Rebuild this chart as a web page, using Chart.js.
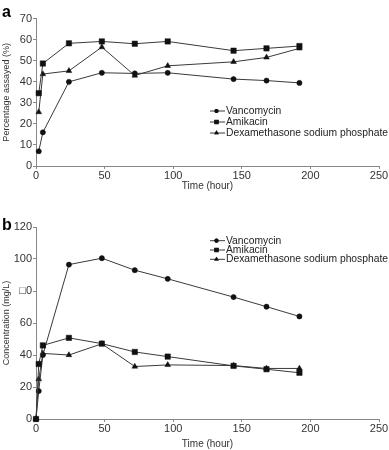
<!DOCTYPE html>
<html>
<head>
  <title>Percentage assayed and concentration</title>
  <script src="https://cdn.jsdelivr.net/npm/chart.js"></script>
  <style>
    body { margin: 0; background-color: #ffffff; font-family: "Liberation Sans", Arial, sans-serif; }
    #wrap { position: relative; width: 389px; height: 450px; }
    canvas { position: absolute; left: 0; }
    #chartA { top: 0; }
    #chartB { top: 200px; }
  </style>
</head>
<body>
  <div id="wrap">
    <canvas id="chartA" width="389" height="200"></canvas>
    <canvas id="chartB" width="389" height="250"></canvas>
  </div>

  <script>
    // panel a - percentage assayed
    const timesA = [2, 5, 24, 48, 72, 96, 144, 168, 192];
    const vancoA = [7, 16, 40, 44.3, 44, 44.3, 41.3, 40.6, 39.5];
    const amikA = [34.6, 48.7, 58.3, 59.2, 58.1, 59.2, 54.8, 55.9, 57];
    const dexaA = [25.6, 43.7, 45.2, 56.5, 43, 47.6, 49.5, 51.6, 55.9];

    // panel b - concentration
    const timesB = [0, 2, 5, 24, 48, 72, 96, 144, 168, 192];
    const vancoB = [0, 17.5, 40, 96.5, 100.5, 93, 87.6, 76.2, 70.2, 64.1];
    const amikB = [0, 34.4, 46, 50.7, 47.1, 41.9, 39, 33.2, 31.1, 28.9];
    const dexaB = [0, 25, 41, 40, 47, 32.8, 33.8, 33.4, 31.6, 31.6];

    const seriesNames = ['Vancomycin', 'Amikacin', 'Dexamethasone sodium phosphate'];
    const xTicks = [0, 50, 100, 150, 200, 250];
    const yTicksA = [0, 10, 20, 30, 40, 50, 60, 70];
    const yTicksB = [0, 20, 40, 60, 80, 100, 120];

    const markers = [
      { style: 'circle', radius: 2.6, order: 1 },
      { style: 'rect', radius: 3.8, order: 0 },
      { style: 'triangle', radius: 3.3, order: 2 }
    ];

    function toPoints(times, values) {
      return times.map((t, i) => ({ x: t, y: values[i] }));
    }

    function makeDatasets(times, lists) {
      return lists.map((vals, i) => ({
        label: seriesNames[i],
        data: toPoints(times, vals),
        order: markers[i].order,
        clip: false,
        borderColor: '#3a3a3a',
        borderWidth: 1,
        pointStyle: markers[i].style,
        pointRadius: markers[i].radius,
        pointBackgroundColor: '#111',
        pointBorderColor: '#111',
        pointBorderWidth: 0.5,
        fill: false,
        tension: 0
      }));
    }

    // legend with line + marker, and the panel letter
    function panelExtras(letter, letterY, legendY, legendGap) {
      return {
        id: 'extras' + letter,
        afterDraw(chart) {
          const ctx = chart.ctx;
          ctx.save();
          ctx.fillStyle = '#000';
          ctx.font = 'bold 16px "Liberation Sans", Arial, sans-serif';
          ctx.textBaseline = 'alphabetic';
          ctx.fillText(letter, 2, letterY);

          ctx.font = '10.3px "Liberation Sans", Arial, sans-serif';
          ctx.textBaseline = 'middle';
          chart.data.datasets.forEach((ds, i) => {
            const y = legendY + i * legendGap;
            ctx.strokeStyle = '#3a3a3a';
            ctx.lineWidth = 1;
            ctx.beginPath();
            ctx.moveTo(210, y);
            ctx.lineTo(225, y);
            ctx.stroke();
            ctx.fillStyle = '#111';
            Chart.helpers.drawPoint(ctx, { pointStyle: ds.pointStyle, radius: ds.pointRadius * 0.8, borderWidth: 0 }, 216.5, y);
            ctx.fill();
            ctx.fillStyle = '#222';
            ctx.fillText(ds.label, 226, y);
          });
          ctx.restore();
        }
      };
    }

    function makeOptions(yTicks, yTitle, xHeight, xTitlePad, top, yLabel) {
      return {
        responsive: false,
        animation: false,
        devicePixelRatio: 1,
        layout: { padding: { top: top, right: 10, left: 0, bottom: 0 } },
        plugins: { legend: { display: false }, tooltip: { enabled: false } },
        scales: {
          x: {
            type: 'linear',
            min: 0,
            max: 250,
            afterBuildTicks: s => { s.ticks = xTicks.map(v => ({ value: v })); },
            afterFit: s => { s.height = xHeight; },
            grid: { drawOnChartArea: false, drawTicks: true, tickLength: 3, color: '#888' },
            border: { display: true, color: '#888', width: 1 },
            ticks: { padding: 0, color: '#333', font: { size: 11, family: '"Liberation Sans", Arial, sans-serif' }, maxRotation: 0 },
            title: { display: true, text: 'Time (hour)', color: '#333', padding: { top: 0, bottom: xTitlePad }, font: { size: 10, family: '"Liberation Sans", Arial, sans-serif' } }
          },
          y: {
            min: yTicks[0],
            max: yTicks[yTicks.length - 1],
            afterBuildTicks: s => { s.ticks = yTicks.map(v => ({ value: v })); },
            afterFit: s => { s.width = 36; },
            grid: { drawOnChartArea: false, drawTicks: true, tickLength: 3, color: '#888' },
            border: { display: true, color: '#888', width: 1 },
            ticks: { padding: 1, color: '#333', font: { size: 11, family: '"Liberation Sans", Arial, sans-serif' }, callback: yLabel },
            title: { display: true, text: yTitle, color: '#333', padding: { top: 1, bottom: 0 }, font: { size: 9, family: '"Liberation Sans", Arial, sans-serif' } }
          }
        }
      };
    }

    new Chart(document.getElementById('chartA').getContext('2d'), {
      type: 'line',
      data: { datasets: makeDatasets(timesA, [vancoA, amikA, dexaA]) },
      options: makeOptions(yTicksA, 'Percentage assayed (%)', 34, 7.3, 18.7, v => v),
      plugins: [panelExtras('a', 17, 111, 11)]
    });

    new Chart(document.getElementById('chartB').getContext('2d'), {
      type: 'line',
      data: { datasets: makeDatasets(timesB, [vancoB, amikB, dexaB]) },
      options: makeOptions(yTicksB, 'Concentration (mg/L)', 31, 0, 27, v => (v === 80 ? '\u25A10' : v)),
      plugins: [panelExtras('b', 30, 40.7, 9.3)]
    });
  </script>
</body>
</html>
